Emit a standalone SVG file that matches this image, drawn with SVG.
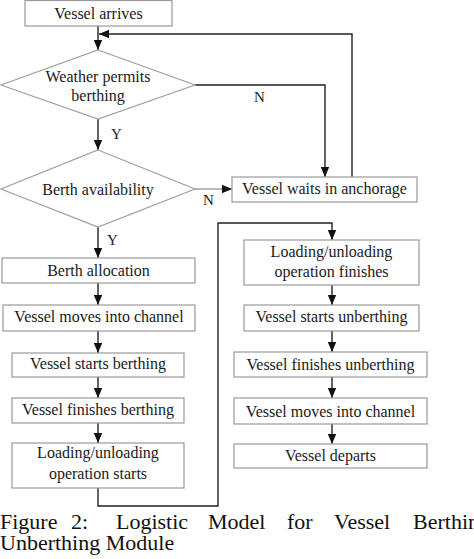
<svg xmlns="http://www.w3.org/2000/svg" width="474" height="559" viewBox="0 0 474 559">
<style>
.box{fill:#fff;stroke:#9a9a9a;stroke-width:1.2}
.dia{fill:#fff;stroke:#a0a0a0;stroke-width:1.2}
text{font-family:'Liberation Serif',serif}
.t{font-size:16px;fill:#1a1a1a;text-anchor:middle}
.lbl{font-size:15px;fill:#1a1a1a}
.cap{font-size:22px;fill:#111}
.c{fill:none;stroke:#222;stroke-width:1.4}
.cg{fill:none;stroke:#777;stroke-width:1.2}
</style>
<defs>
<marker id="ah" markerUnits="userSpaceOnUse" markerWidth="10" markerHeight="10" refX="10" refY="5" orient="auto">
<path d="M0,0.8 L10,5 L0,9.2 Z" fill="#111"/>
</marker>
</defs>
<rect width="474" height="559" fill="#fff"/>
<g id="connectors">
<path class="c" d="M98,26 V50" marker-end="url(#ah)"/>
<path class="c" d="M352,177 V34 H99" marker-end="url(#ah)"/>
<path class="c" d="M195,85 H325 V177" marker-end="url(#ah)"/>
<path class="c" d="M98,119 V150" marker-end="url(#ah)"/>
<path class="cg" d="M195,189 H232" marker-end="url(#ah)"/>
<path class="c" d="M98,227 V258" marker-end="url(#ah)"/>
<path class="c" d="M98,283 V305" marker-end="url(#ah)"/>
<path class="c" d="M98,331 V353" marker-end="url(#ah)"/>
<path class="c" d="M98,377 V398" marker-end="url(#ah)"/>
<path class="c" d="M98,423 V443" marker-end="url(#ah)"/>
<path class="c" d="M98,488 V506 H218 V223 H332 V240" marker-end="url(#ah)"/>
<path class="c" d="M332,285 V305" marker-end="url(#ah)"/>
<path class="c" d="M332,331 V352" marker-end="url(#ah)"/>
<path class="c" d="M332,377 V398" marker-end="url(#ah)"/>
<path class="c" d="M332,424 V444" marker-end="url(#ah)"/>
<text class="lbl" x="254" y="102">N</text>
<text class="lbl" x="111" y="139">Y</text>
<text class="lbl" x="203" y="205">N</text>
<text class="lbl" x="107" y="245">Y</text>
</g>
<g id="vessel-arrives"><rect class="box" x="25" y="0.5" width="147" height="25.5"/><text class="t" x="98.5" y="19">Vessel arrives</text></g>
<g id="weather"><polygon class="dia" points="98,50 195,85 98,119 1,85"/><text class="t" x="98" y="82">Weather permits</text><text class="t" x="98" y="101">berthing</text></g>
<g id="berth-availability"><polygon class="dia" points="98,150 195,189 98,227 1,189"/><text class="t" x="98" y="195">Berth availability</text></g>
<g id="vessel-waits"><rect class="box" x="232" y="177" width="185" height="25"/><text class="t" x="324.5" y="194">Vessel waits in anchorage</text></g>
<g id="berth-allocation"><rect class="box" x="2" y="258" width="193" height="25"/><text class="t" x="98.5" y="276">Berth allocation</text></g>
<g id="moves-in"><rect class="box" x="3" y="305" width="192" height="26"/><text class="t" x="99" y="322">Vessel moves into channel</text></g>
<g id="starts-berthing"><rect class="box" x="12" y="353" width="172" height="24"/><text class="t" x="98" y="369">Vessel starts berthing</text></g>
<g id="finishes-berthing"><rect class="box" x="12" y="398" width="172" height="25"/><text class="t" x="98" y="415">Vessel finishes berthing</text></g>
<g id="loading-starts"><rect class="box" x="12" y="443" width="172" height="45"/><text class="t" x="98" y="458">Loading/unloading</text><text class="t" x="98" y="479">operation starts</text></g>
<g id="loading-finishes"><rect class="box" x="244" y="240" width="175" height="45"/><text class="t" x="331.5" y="257">Loading/unloading</text><text class="t" x="331.5" y="277">operation finishes</text></g>
<g id="starts-unberthing"><rect class="box" x="244" y="305" width="175" height="26"/><text class="t" x="331.5" y="322">Vessel starts unberthing</text></g>
<g id="finishes-unberthing"><rect class="box" x="234" y="352" width="193" height="25"/><text class="t" x="330.5" y="370">Vessel finishes unberthing</text></g>
<g id="moves-out"><rect class="box" x="234" y="398" width="193" height="26"/><text class="t" x="330.5" y="417">Vessel moves into channel</text></g>
<g id="departs"><rect class="box" x="234" y="444" width="193" height="24"/><text class="t" x="330.5" y="461">Vessel departs</text></g>
<g id="caption">
<text class="cap" x="0" y="529">Figure</text>
<text class="cap" x="71" y="529">2:</text>
<text class="cap" x="116" y="529">Logistic</text>
<text class="cap" x="208" y="529">Model</text>
<text class="cap" x="287" y="529">for</text>
<text class="cap" x="334" y="529">Vessel</text>
<text class="cap" x="413" y="529">Berthing</text>
<text class="cap" x="0" y="550">Unberthing Module</text>
</g>
</svg>
